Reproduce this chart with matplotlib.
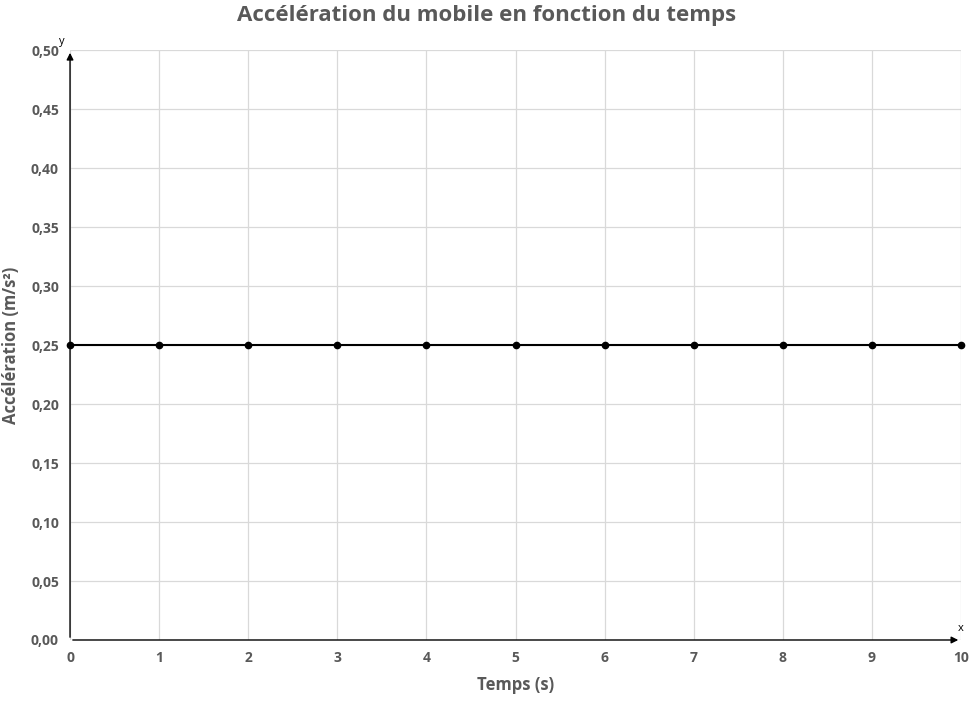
import matplotlib.pyplot as plt

temps = [0, 1, 2, 3, 4, 5, 6, 7, 8, 9, 10]
acceleration = [0.25] * 11
yticks = [0.0, 0.05, 0.10, 0.15, 0.20, 0.25, 0.30, 0.35, 0.40, 0.45, 0.50]

gray = "#595959"
plt.rcParams["font.family"] = ["Open Sans", "DejaVu Sans"]

fig = plt.figure(figsize=(9.74, 7.05), dpi=100)
ax = fig.add_axes([0.0719, 0.0922, 0.9148, 0.8368])

ax.plot(temps, acceleration, color="black", lw=1.5, marker="o", ms=4.5, clip_on=False, zorder=3)

ax.set_xlim(0, 10)
ax.set_ylim(0, 0.5)
ax.set_xticks(temps)
ax.set_yticks(yticks)
ax.set_yticklabels([f"{v:.2f}".replace(".", ",") for v in yticks])
ax.grid(True, color="#d9d9d9", lw=0.9)
ax.set_axisbelow(True)
for s in ax.spines.values():
    s.set_visible(False)
ax.tick_params(length=0, labelsize=10, labelcolor=gray, pad=8)
for lab in ax.get_xticklabels() + ax.get_yticklabels():
    lab.set_fontweight("bold")

# axes with arrows
ax.annotate("", xy=(1.0, 0), xytext=(0, 0), xycoords="axes fraction",
            arrowprops=dict(arrowstyle="-|>", color="black", lw=1, mutation_scale=10))
ax.annotate("", xy=(0, 1.0), xytext=(0, 0), xycoords="axes fraction",
            arrowprops=dict(arrowstyle="-|>", color="black", lw=1, mutation_scale=10))
ax.text(-0.012, 1.005, "y", transform=ax.transAxes, fontsize=8, ha="left", va="bottom")
ax.text(1.0, 0.01, "x", transform=ax.transAxes, fontsize=8, ha="center", va="bottom")

ax.set_xlabel("Temps (s)", fontsize=12, fontweight="bold", color=gray, labelpad=8)
ax.set_ylabel("Accélération (m/s²)", fontsize=12, fontweight="bold", color=gray, labelpad=8)
fig.suptitle("Accélération du mobile en fonction du temps", fontsize=16,
             fontweight="bold", color=gray, y=0.993)

fig.savefig("out.png", dpi=100)
